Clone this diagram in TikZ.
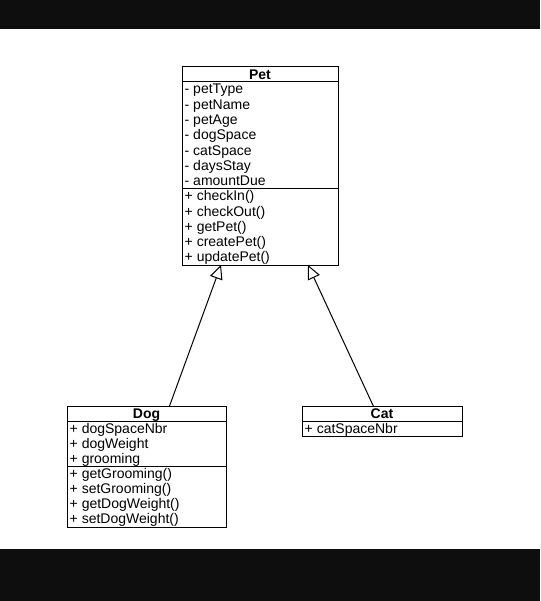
\documentclass[tikz,border=0pt]{standalone}
\usepackage{fontspec}
\setmainfont{Liberation Sans}
\usetikzlibrary{arrows.meta,calc}
\definecolor{barc}{HTML}{0E0E0E}
\tikzset{
  box/.style={draw=black,line width=1pt,fill=white,inner sep=0pt,outer sep=0pt},
  row/.style={anchor=base west,inner sep=0pt,font=\fontsize{14}{15}\selectfont},
  ttl/.style={anchor=base,inner sep=0pt,font=\fontsize{14}{15}\selectfont\bfseries},
  sep/.style={line width=1pt},
  inh/.style={line width=1pt,-{Triangle[open,length=14pt,width=13pt,line width=1pt]}}
}
\begin{document}
\begin{tikzpicture}[x=1pt,y=-1pt]
\useasboundingbox (0,0) rectangle (540,601);
\fill[barc] (0,0) rectangle (540,29);
\fill[white] (0,29) rectangle (540,549);
\fill[barc] (0,549) rectangle (540,601);

% Pet
\node[box,minimum width=156pt,minimum height=198pt] (pet) at (260,166) {};
\draw[sep] (182,82) -- (338,82);
\draw[sep] (182,189) -- (338,189);
\node[ttl] (pett) at (260,79.5) {Pet};
\node[row] (p1) at (184.5,94.0) {- petType};
\node[row] (p2) at (184.5,109.3) {- petName};
\node[row] (p3) at (184.5,124.6) {- petAge};
\node[row] (p4) at (184.5,139.9) {- dogSpace};
\node[row] (p5) at (184.5,155.2) {- catSpace};
\node[row] (p6) at (184.5,170.5) {- daysStay};
\node[row] (p7) at (184.5,185.8) {- amountDue};
\node[row] (m1) at (184.5,201.0) {+ checkIn()};
\node[row] (m2) at (184.5,216.2) {+ checkOut()};
\node[row] (m3) at (184.5,231.4) {+ getPet()};
\node[row] (m4) at (184.5,246.6) {+ createPet()};
\node[row] (m5) at (184.5,261.8) {+ updatePet()};

% Dog
\node[box,minimum width=159pt,minimum height=121pt] (dog) at (146.5,466.5) {};
\draw[sep] (67,421) -- (226,421);
\draw[sep] (67,466) -- (226,466);
\node[ttl] (dogt) at (146.5,418.5) {Dog};
\node[row] (d1) at (69.5,433.0) {+ dogSpaceNbr};
\node[row] (d2) at (69.5,448.0) {+ dogWeight};
\node[row] (d3) at (69.5,463.0) {+ grooming};
\node[row] (d4) at (69.5,478.0) {+ getGrooming()};
\node[row] (d5) at (69.5,493.3) {+ setGrooming()};
\node[row] (d6) at (69.5,508.5) {+ getDogWeight()};
\node[row] (d7) at (69.5,523.8) {+ setDogWeight()};

% Cat
\node[box,minimum width=160pt,minimum height=30pt] (cat) at (382,421) {};
\draw[sep] (302,421) -- (462,421);
\node[ttl] (catt) at (382,418.5) {Cat};
\node[row] (c1) at (304.5,433.0) {+ catSpaceNbr};

% inheritance
\draw[inh] ($(dog.north)+(23,0)$) -- ($(pet.south)+(-39,0)$);
\draw[inh] ($(cat.north)+(-8.7,0)$) -- ($(pet.south)+(48,0)$);
\end{tikzpicture}
\end{document}
